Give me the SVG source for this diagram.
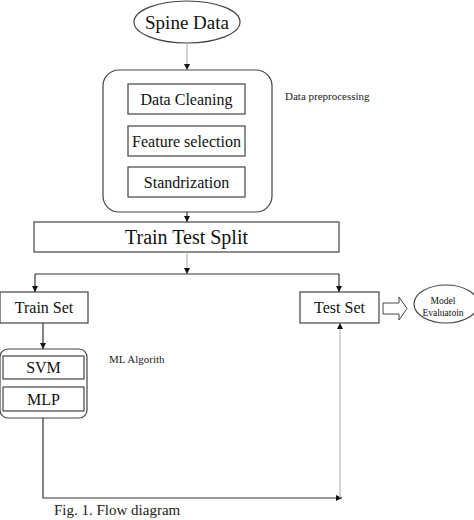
<svg xmlns="http://www.w3.org/2000/svg" width="474" height="520" viewBox="0 0 474 520">
<style>
.box{fill:#fff;stroke:#444;stroke-width:1.2}
.rbox{fill:#fff;stroke:#444;stroke-width:1.2}
.t{font-family:"Liberation Serif","Times New Roman",serif;fill:#111;text-anchor:middle}
.lab{font-family:"Liberation Serif","Times New Roman",serif;fill:#222}
.ln{fill:none;stroke:#333;stroke-width:1.2}
.lg{fill:none;stroke:#aaa;stroke-width:1}
</style>
<defs>
<marker id="ah" viewBox="0 0 10 10" refX="10" refY="5" markerWidth="6" markerHeight="6" orient="auto" markerUnits="userSpaceOnUse">
<path d="M0,0 L10,5 L0,10 z" fill="#111"/>
</marker>
</defs>
<rect width="474" height="520" fill="#fff"/>
<g id="spine-data">
<ellipse cx="187" cy="22" rx="53" ry="21" class="box"/>
<text x="187" y="29" class="t" font-size="19">Spine Data</text>
</g>
<g id="preprocessing">
<rect x="103" y="70" width="169" height="142" rx="16" class="rbox"/>
<rect x="128" y="84" width="117" height="30" class="box"/>
<text x="186.5" y="105" class="t" font-size="16">Data Cleaning</text>
<rect x="128" y="126" width="117" height="30" class="box"/>
<text x="186.5" y="147" class="t" font-size="16">Feature selection</text>
<rect x="128" y="167" width="117" height="30" class="box"/>
<text x="186.5" y="188" class="t" font-size="16">Standrization</text>
<text x="285" y="100" class="lab" font-size="11">Data preprocessing</text>
</g>
<g id="train-test-split">
<rect x="34" y="222" width="305" height="30" class="box"/>
<text x="186.5" y="244" class="t" font-size="20">Train Test Split</text>
</g>
<g id="train-set">
<rect x="0" y="292" width="88" height="31" class="box"/>
<text x="44" y="313" class="t" font-size="16">Train Set</text>
</g>
<g id="test-set">
<rect x="300" y="292" width="79" height="31" class="box"/>
<text x="339.5" y="313" class="t" font-size="16">Test Set</text>
</g>
<g id="model-evaluator">
<ellipse cx="446" cy="304" rx="32" ry="19" class="box"/>
<text x="443" y="304" class="t" font-size="9.5">Model</text>
<text x="443" y="316" class="t" font-size="9.5">Evaluatoin</text>
</g>
<g id="ml-algorithm">
<rect x="0" y="349" width="87" height="69" rx="8" class="rbox"/>
<rect x="3" y="356" width="81" height="23" class="box"/>
<text x="43.5" y="373" class="t" font-size="16">SVM</text>
<rect x="3" y="387" width="81" height="24" class="box"/>
<text x="43.5" y="405" class="t" font-size="16">MLP</text>
<text x="109" y="363" class="lab" font-size="11">ML Algorith</text>
</g>
<g id="connectors">
<path d="M187,43 V70" class="lg" marker-end="url(#ah)"/>
<path d="M187,212 V222" class="ln" marker-end="url(#ah)"/>
<path d="M187,252 V274" class="lg" marker-end="url(#ah)"/>
<path d="M35,274 H339" class="ln"/>
<path d="M35,274 V292" class="ln" marker-end="url(#ah)"/>
<path d="M339,274 V292" class="ln" marker-end="url(#ah)"/>
<path d="M43,323 V349" class="ln" marker-end="url(#ah)"/>
<path d="M43,418 V498 H342" class="ln" marker-end="url(#ah)"/>
<path d="M340,498 V323" class="lg" marker-end="url(#ah)"/>
<path d="M383,303 H399 V297 L407,308.5 L399,320 V314 H383 Z" fill="#fff" stroke="#444" stroke-width="1"/>
</g>
<text x="54" y="515" class="lab" font-size="15">Fig. 1. Flow diagram</text>
</svg>
